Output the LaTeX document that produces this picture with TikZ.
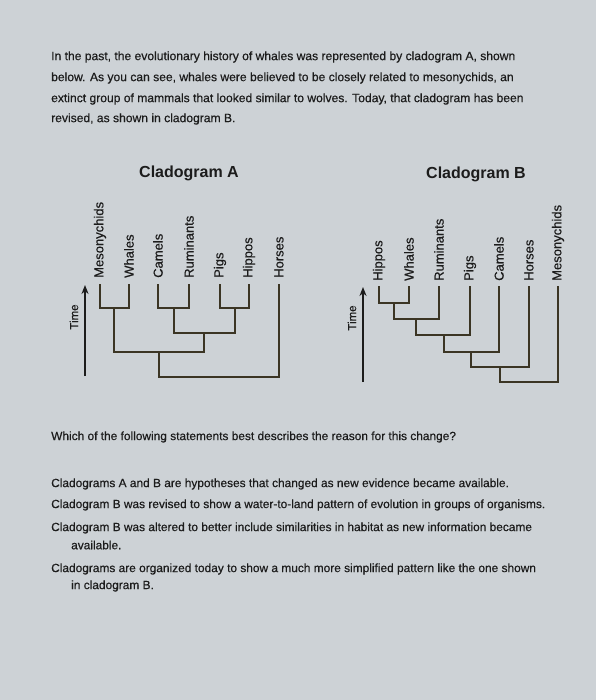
\documentclass[tikz,border=0pt]{standalone}
\usepackage{fontspec}
\setmainfont{Liberation Sans}[UprightFeatures={FakeBold=0.5}]
\usetikzlibrary{arrows.meta}
\definecolor{bg}{HTML}{CDD2D6}
\definecolor{ink}{HTML}{1C1C1C}
\definecolor{branch}{HTML}{3B3524}
\begin{document}
\begin{tikzpicture}[x=1pt,y=-1pt,
  txt/.style={anchor=west,inner sep=0pt,text=ink,font=\fontsize{12.1}{14}\selectfont},
  qtxt/.style={anchor=west,inner sep=0pt,text=ink,font=\fontsize{11.9}{14}\selectfont},
  ttl/.style={anchor=center,inner sep=0pt,text=ink,font=\fontsize{16}{18}\selectfont\bfseries},
  leaflbl/.style={anchor=west,rotate=90,inner sep=0pt,text=ink,font=\fontsize{13}{15}\selectfont},
  timelbl/.style={anchor=center,rotate=90,inner sep=0pt,text=ink,font=\fontsize{11.5}{13}\selectfont},
  br/.style={draw=branch,line width=1.8pt,line cap=rect},
  timearrow/.style={draw=ink,line width=1.8pt,-{Stealth[length=9pt,width=7pt]}}]
\fill[bg] (0,0) rectangle (596,700);
\useasboundingbox (0,0) rectangle (596,700);
% intro paragraph
\node[txt] (p1) at (51,57) {In the past, the evolutionary history of whales was represented by cladogram A, shown};
\node[txt] (p2) at (51,78) {below. As you can see, whales were believed to be closely related to mesonychids, an};
\node[txt] (p3) at (51,99) {extinct group of mammals that looked similar to wolves. Today, that cladogram has been};
\node[txt] (p4) at (51,119) {revised, as shown in cladogram B.};
% titles
\node[ttl] (ta) at (189,173) {Cladogram A};
\node[ttl] (tb) at (476,174) {Cladogram B};
% Cladogram A
\coordinate (aM) at (100,285);
\coordinate (aW) at (129,285);
\coordinate (aC) at (158,285);
\coordinate (aR) at (189,285);
\coordinate (aP) at (220,285);
\coordinate (aH) at (249,285);
\coordinate (aHo) at (279,285);
\coordinate (a1) at (114,308);
\coordinate (a2) at (174,308);
\coordinate (a3) at (235,308);
\coordinate (a4) at (204,333);
\coordinate (a5) at (159,352);
\coordinate (a6) at (219,377);
\foreach \c/\t in {aM/Mesonychids,aW/Whales,aC/Camels,aR/Ruminants,aP/Pigs,aH/Hippos,aHo/Horses}
  \node[leaflbl] (l\c) at ([yshift=7pt]\c) {\t};
\path[br] (aM) |- (a1) -| (aW);
\path[br] (aC) |- (a2) -| (aR);
\path[br] (aP) |- (a3) -| (aH);
\path[br] (a2) |- (a4) -| (a3);
\path[br] (a1) |- (a5) -| (a4);
\path[br] (a5) |- (a6) -| (aHo);
\coordinate (tA0) at (85,376);
\coordinate (tA1) at (85,285);
\path[timearrow] (tA0) -- (tA1);
\node[timelbl] (timeA) at (74,317) {Time};
% Cladogram B
\coordinate (bHi) at (379,287);
\coordinate (bWh) at (409,287);
\coordinate (bRu) at (439,287);
\coordinate (bPi) at (470,287);
\coordinate (bCa) at (499,287);
\coordinate (bHo) at (529,287);
\coordinate (bMe) at (558,287);
\coordinate (b1) at (394,303);
\coordinate (b2) at (416,319);
\coordinate (b3) at (444,335);
\coordinate (b4) at (471,352);
\coordinate (b5) at (500,367);
\coordinate (b6) at (529,382);
\foreach \c/\t in {bHi/Hippos,bWh/Whales,bRu/Ruminants,bPi/Pigs,bCa/Camels,bHo/Horses,bMe/Mesonychids}
  \node[leaflbl] (l\c) at ([yshift=6pt]\c) {\t};
\path[br] (bHi) |- (b1) -| (bWh);
\path[br] (b1) |- (b2) -| (bRu);
\path[br] (b2) |- (b3) -| (bPi);
\path[br] (b3) |- (b4) -| (bCa);
\path[br] (b4) |- (b5) -| (bHo);
\path[br] (b5) |- (b6) -| (bMe);
\coordinate (tB0) at (363,382);
\coordinate (tB1) at (363,287);
\path[timearrow] (tB0) -- (tB1);
\node[timelbl] (timeB) at (352,318) {Time};
% question
\node[qtxt] (q) at (51,437) {Which of the following statements best describes the reason for this change?};
\node[qtxt] (o1) at (51,484) {Cladograms A and B are hypotheses that changed as new evidence became available.};
\node[qtxt] (o2) at (51,505) {Cladogram B was revised to show a water-to-land pattern of evolution in groups of organisms.};
\node[qtxt] (o3a) at (51,528) {Cladogram B was altered to better include similarities in habitat as new information became};
\node[qtxt] (o3b) at (71,545) {available.};
\node[qtxt] (o4a) at (51,569) {Cladograms are organized today to show a much more simplified pattern like the one shown};
\node[qtxt] (o4b) at (71,586) {in cladogram B.};
\end{tikzpicture}
\end{document}
